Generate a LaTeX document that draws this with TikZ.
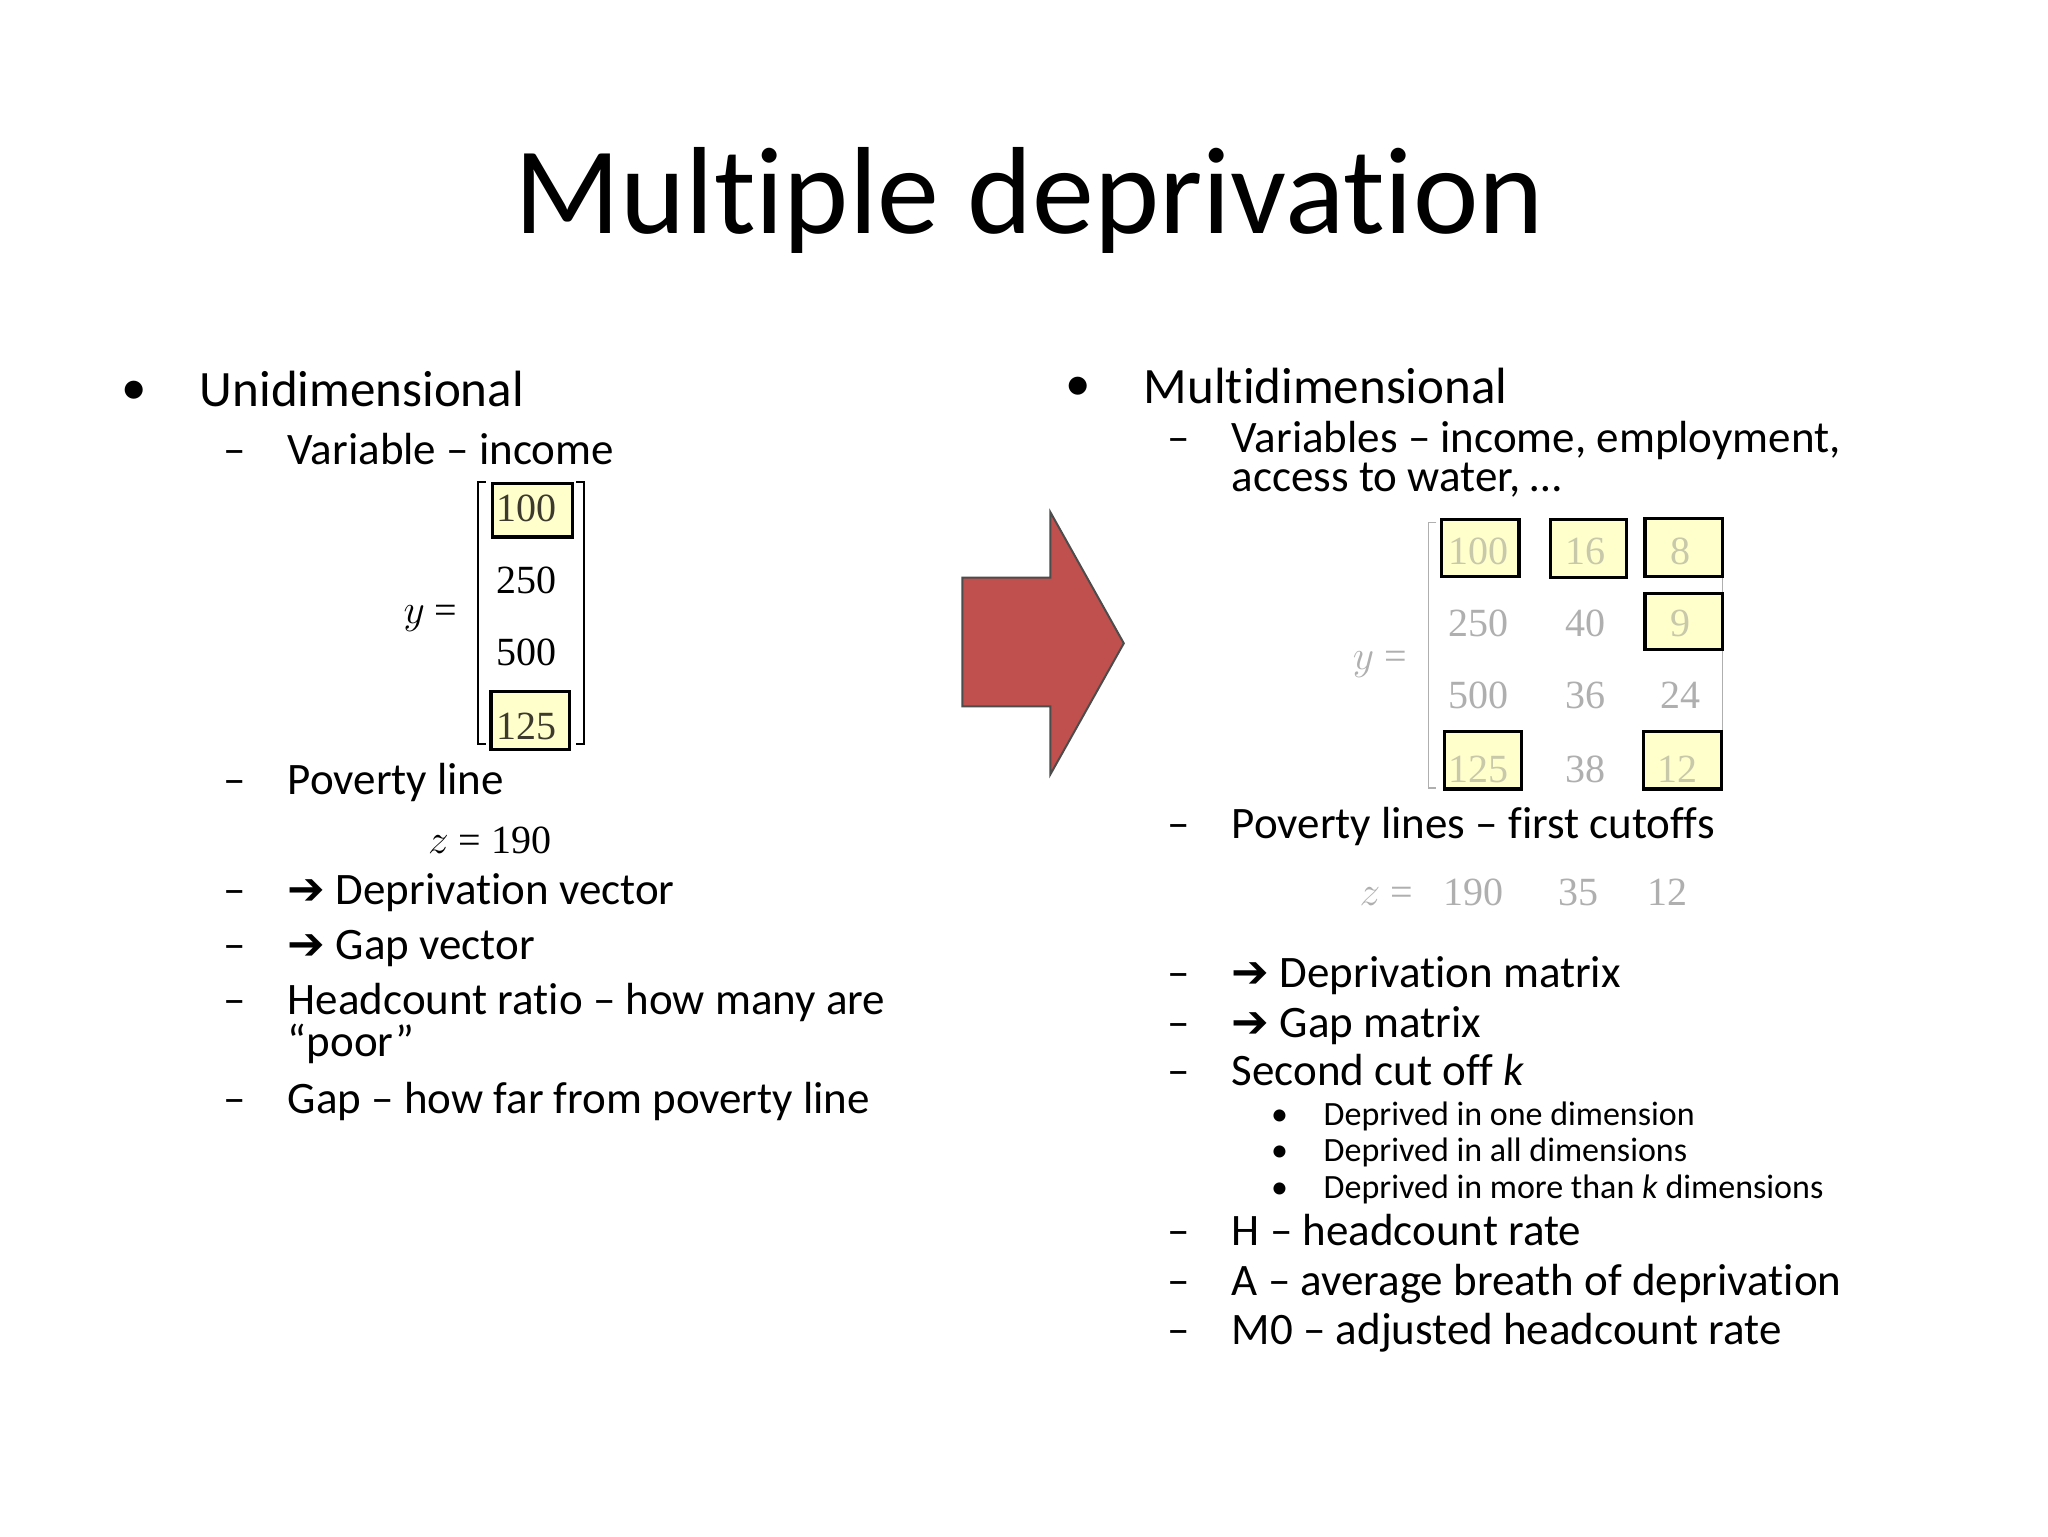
\documentclass[tikz,border=0pt]{standalone}
\usepackage{fontspec}
\setmainfont[Ligatures=NoCommon]{Carlito}
\newfontfamily\tnr{Liberation Serif}
\newfontfamily\dvs{DejaVu Sans}
\definecolor{arrred}{RGB}{192,80,77}
\definecolor{boxy}{RGB}{255,255,204}
\definecolor{lgray}{RGB}{175,175,175}
\definecolor{bgray}{RGB}{200,200,170}
\begin{document}
\begin{tikzpicture}[x=0.6565pt,y=-0.6565pt,
 lone/.style={anchor=base west,font=\fontsize{25.5}{29}\selectfont,inner sep=0},
 ltwo/.style={anchor=base west,font=\fontsize{22.5}{26}\selectfont,inner sep=0},
 lthree/.style={anchor=base west,font=\fontsize{17}{20}\selectfont,inner sep=0},
 num/.style={anchor=base,font=\tnr\fontsize{20}{24}\selectfont,inner sep=0},
 ybox/.style={draw=black,line width=1.6pt,fill=boxy}]
\useasboundingbox[fill=white] (0,0) rectangle (1560,1170);
\node[anchor=base,font=\fontsize{62}{66}\selectfont,inner sep=0] (title) at (784,178) {Multiple deprivation};
% left column
\node[lone] (b1) at (92,308) {•};
\node[lone] (t1) at (152,310) {Unidimensional};
\foreach \n/\y/\t in {v/354/{Variable – income},p/605/{Poverty line},d/689/{{\dvs\bfseries ➔} Deprivation vector},g/731/{{\dvs\bfseries ➔} Gap vector},h/773/{Headcount ratio – how many are},q/848/{Gap – how far from poverty line}}{
 \node[ltwo] (l\n) at (219,\y) {\t};
 \node[ltwo] (ld\n) at (170,\y) {–};}
\node[ltwo] (lpoor) at (219,805) {“poor”};
% left matrix
\draw[line width=1pt] (370,367)--(364,367)--(364,567)--(370,567);
\draw[line width=1pt] (439,367)--(445,367)--(445,567)--(439,567);
\draw[ybox] (375,368) rectangle (436,409);
\draw[ybox] (374,527) rectangle (434,571);
\node[num,text=black!75!olive] (m1) at (401,397) {100};
\node[num] (m2) at (401,452) {250};
\node[num] (m3) at (401,507) {500};
\node[num,text=black!75!olive] (m4) at (401,563) {125};
\node[num] (ly) at (328,475) {$y$ =};
\node[num] (lz) at (373,650) {$z$ = 190};
% arrow
\draw[fill=arrred,draw=black!70,line width=1pt] (733,440)--(800,440)--(800,390)--(856,490)--(800,590)--(800,538)--(733,538)--cycle;
% right column
\node[lone] (b2) at (811,305) {•};
\node[lone] (t2) at (871,307) {Multidimensional};
\foreach \n/\y/\t in {v/345/{Variables – income, employment,},p/639/{Poverty lines – first cutoffs},d/752/{{\dvs\bfseries ➔} Deprivation matrix},g/790/{{\dvs\bfseries ➔} Gap matrix},s/827/{Second cut off \textit{k}},h/949/{H – headcount rate},a/987/{A – average breath of deprivation},m/1024/{M0 – adjusted headcount rate}}{
 \node[ltwo] (r\n) at (938,\y) {\t};
 \node[ltwo] (rd\n) at (889,\y) {–};}
\node[ltwo] (racc) at (938,374) {access to water, …};
\foreach \n/\y/\t in {a/857/{Deprived in one dimension},b/885/{Deprived in all dimensions},c/913/{Deprived in more than \textit{k} dimensions}}{
 \node[lthree] (s\n) at (1008,\y) {\t};
 \node[lthree] (sb\n) at (968,\y) {•};}
% right matrix
\draw[lgray,line width=0.8pt] (1094,398)--(1088,398)--(1088,600)--(1094,600);
\draw[lgray,line width=0.8pt] (1312,440)--(1312,557);
\draw[ybox] (1098,396) rectangle (1157,439);
\draw[ybox] (1181,396) rectangle (1239,440);
\draw[ybox] (1253,395) rectangle (1312,439);
\draw[ybox] (1253,452) rectangle (1312,495);
\draw[ybox] (1100,557) rectangle (1159,601);
\draw[ybox] (1252,557) rectangle (1311,601);
\node[num,text=bgray] (r11) at (1126,430) {100};
\node[num,text=bgray] (r12) at (1208,430) {16};
\node[num,text=bgray] (r13) at (1280,430) {8};
\node[num,text=lgray] (r21) at (1126,485) {250};
\node[num,text=lgray] (r22) at (1208,485) {40};
\node[num,text=bgray] (r23) at (1280,485) {9};
\node[num,text=lgray] (r31) at (1126,540) {500};
\node[num,text=lgray] (r32) at (1208,540) {36};
\node[num,text=lgray] (r33) at (1280,540) {24};
\node[num,text=bgray] (r41) at (1126,596) {125};
\node[num,text=lgray] (r42) at (1208,596) {38};
\node[num,text=bgray] (r43) at (1278,596) {12};
\node[num,text=lgray] (ry) at (1051,510) {$y$ =};
\node[num,text=lgray] (rz) at (1056,690) {$z$ =};
\node[num,text=lgray] (z1) at (1122,690) {190};
\node[num,text=lgray] (z2) at (1202,690) {35};
\node[num,text=lgray] (z3) at (1270,690) {12};
\end{tikzpicture}
\end{document}
